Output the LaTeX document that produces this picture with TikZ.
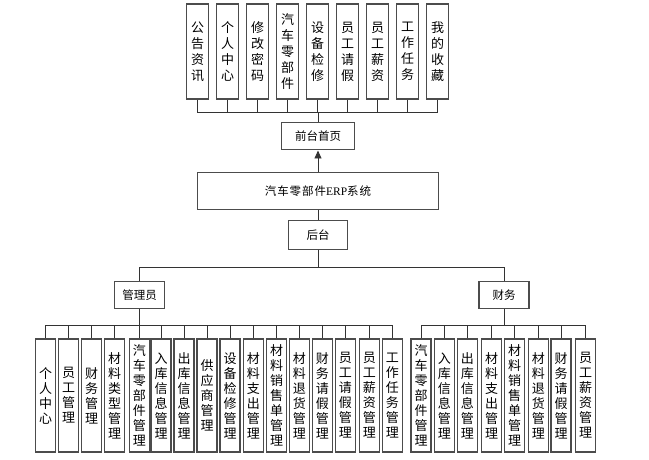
\documentclass[tikz,border=0pt]{standalone}
\usepackage{fontspec}
\setmainfont{Noto Sans CJK SC}
\newfontfamily\lat{Liberation Serif}
\usetikzlibrary{arrows.meta}
\begin{document}
\begin{tikzpicture}[x=1pt,y=1pt,
  box/.style={draw=black!70,line width=1.1pt,fill=white,inner sep=0pt,align=center},
  hbox/.style={box,font=\fontsize{11.5}{13}\selectfont},
  topbox/.style={box,minimum width=22pt,minimum height=95pt,font=\fontsize{13}{16}\selectfont},
  botbox/.style={box,minimum width=20pt,minimum height=113pt,font=\fontsize{13}{15}\selectfont},
  conn/.style={draw=black!80,line width=0.9pt}]
\useasboundingbox (0,0) rectangle (649,459);
% top row
\node[topbox] (t1) at (197.7,407.5) {公\\告\\资\\讯};
\node[topbox] (t2) at (227.7,407.5) {个\\人\\中\\心};
\node[topbox] (t3) at (257.7,407.5) {修\\改\\密\\码};
\node[topbox] (t4) at (287.7,407.5) {汽\\车\\零\\部\\件};
\node[topbox] (t5) at (317.7,407.5) {设\\备\\检\\修};
\node[topbox] (t6) at (347.7,407.5) {员\\工\\请\\假};
\node[topbox] (t7) at (377.7,407.5) {员\\工\\薪\\资};
\node[topbox] (t8) at (407.7,407.5) {工\\作\\任\\务};
\node[topbox] (t9) at (437.7,407.5) {我\\的\\收\\藏};
% middle
\node[hbox,minimum width=73pt,minimum height=27.3pt] (qt) at (318,322.7) {前台首页};
\node[hbox,minimum width=241.7pt,minimum height=36.6pt] (erp) at (318,268) {\addfontfeature{LetterSpace=8}汽车零部件{\lat ERP}系统};
\node[hbox,minimum width=58.4pt,minimum height=28.3pt] (ht) at (318,224.1) {后台};
\node[hbox,minimum width=49.3pt,minimum height=27.6pt] (gly) at (139.5,164) {管理员};
\node[hbox,minimum width=50pt,minimum height=27.6pt] (cw) at (504,164) {财务};
% left bottom group
\node[botbox] (l1) at (45.7,63.5) {个\\人\\中\\心};
\node[botbox] (l2) at (68.7,63.5) {员\\工\\管\\理};
\node[botbox] (l3) at (91.7,63.5) {财\\务\\管\\理};
\node[botbox] (l4) at (114.7,63.5) {材\\料\\类\\型\\管\\理};
\node[botbox] (l5) at (139.3,63.5) {汽\\车\\零\\部\\件\\管\\理};
\node[botbox] (l6) at (161,63.5) {入\\库\\信\\息\\管\\理};
\node[botbox] (l7) at (184,63.5) {出\\库\\信\\息\\管\\理};
\node[botbox] (l8) at (207,63.5) {供\\应\\商\\管\\理};
\node[botbox] (l9) at (230,63.5) {设\\备\\检\\修\\管\\理};
\node[botbox] (l10) at (253.3,63.5) {材\\料\\支\\出\\管\\理};
\node[botbox] (l11) at (276.7,63.5) {材\\料\\销\\售\\单\\管\\理};
\node[botbox] (l12) at (299.3,63.5) {材\\料\\退\\货\\管\\理};
\node[botbox] (l13) at (322.3,63.5) {财\\务\\请\\假\\管\\理};
\node[botbox] (l14) at (345.3,63.5) {员\\工\\请\\假\\管\\理};
\node[botbox] (l15) at (369.3,63.5) {员\\工\\薪\\资\\管\\理};
\node[botbox] (l16) at (392.3,63.5) {工\\作\\任\\务\\管\\理};
% right bottom group
\node[botbox] (r1) at (421,63.5) {汽\\车\\零\\部\\件\\管\\理};
\node[botbox] (r2) at (444.3,63.5) {入\\库\\信\\息\\管\\理};
\node[botbox] (r3) at (467.3,63.5) {出\\库\\信\\息\\管\\理};
\node[botbox] (r4) at (491.7,63.5) {材\\料\\支\\出\\管\\理};
\node[botbox] (r5) at (514.7,63.5) {材\\料\\销\\售\\单\\管\\理};
\node[botbox] (r6) at (538.3,63.5) {材\\料\\退\\货\\管\\理};
\node[botbox] (r7) at (561,63.5) {财\\务\\请\\假\\管\\理};
\node[botbox] (r8) at (585.7,63.5) {员\\工\\薪\\资\\管\\理};
% bus coordinates
\coordinate (tbus) at (318,346.3);
\coordinate (mbus) at (318,191.7);
\coordinate (lbus) at (139.5,134);
\coordinate (rbus) at (504,134);
% connectors
\foreach \i in {1,...,9} \draw[conn] (t\i.south) |- (tbus) -- (qt.north);
\draw[conn,-{Triangle[length=8pt,width=7pt]}] (erp.north) -- (qt.south);
\draw[conn] (erp.south) -- (ht.north);
\draw[conn] (ht.south) -- (mbus) -| (gly.north);
\draw[conn] (mbus) -| (cw.north);
\foreach \i in {1,...,16} \draw[conn] (gly.south) -- (lbus) -| (l\i.north);
\foreach \i in {1,...,8} \draw[conn] (cw.south) -- (rbus) -| (r\i.north);
\end{tikzpicture}
\end{document}
